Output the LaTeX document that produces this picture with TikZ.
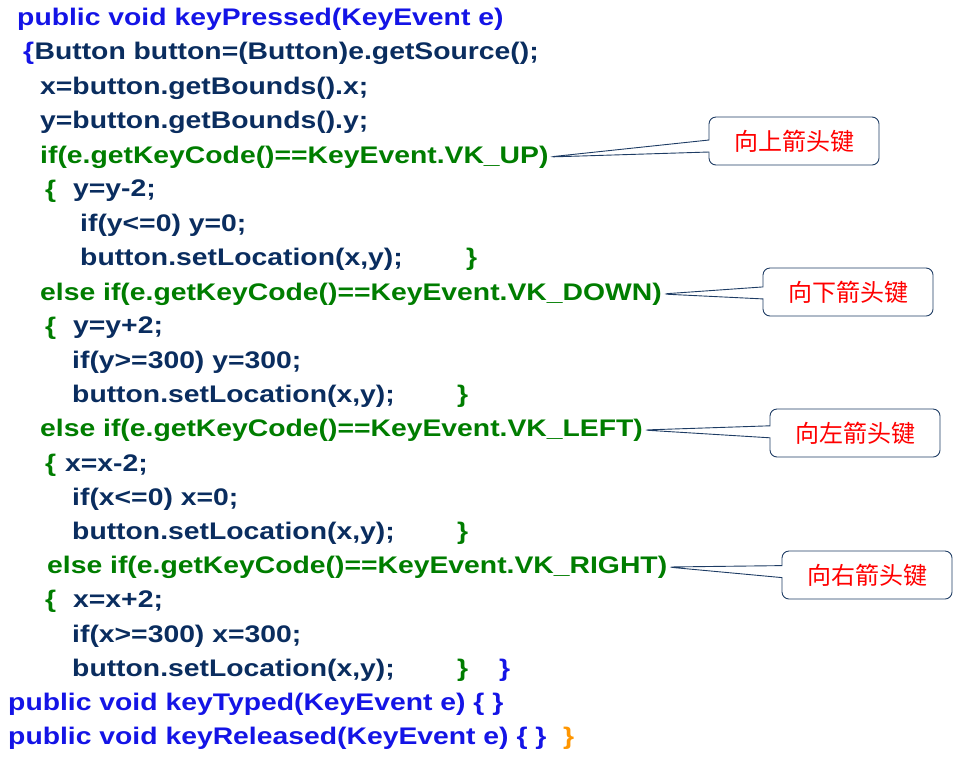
\documentclass[tikz,border=0pt]{standalone}
\usepackage{fontspec}
\usepackage{graphicx}
\setmainfont{Liberation Sans}
\newfontfamily\cjk{Noto Sans CJK SC}
\usetikzlibrary{shapes.callouts}
\definecolor{cblue}{RGB}{20,20,230}
\definecolor{cnavy}{RGB}{10,45,95}
\definecolor{cgreen}{RGB}{0,125,0}
\definecolor{corange}{RGB}{255,150,0}
\definecolor{cborder}{RGB}{30,60,100}
\newcommand\cx[1]{\scalebox{1.18}[1]{#1}}
\begin{document}
\begin{tikzpicture}[x=1pt,y=-1pt,
  code/.style={anchor=west,inner sep=0pt,font=\fontsize{24}{26}\selectfont\bfseries,text=cnavy},
  kw/.style={code,text=cblue},
  gr/.style={code,text=cgreen},
  note/.style={rectangle callout,draw=cborder,line width=0.9pt,fill=white,rounded corners=7pt,
    minimum width=170pt,minimum height=48pt,text=red,font=\cjk\fontsize{24}{26}\selectfont,callout pointer width=12pt}]
\useasboundingbox (0,0) rectangle (960,764);
\node[kw] (l1) at (17,19) {\cx{public void keyPressed(KeyEvent e)}};
\node[kw] (l2a) at (23,53) {\cx{\{}};
\node[code] (l2) at (l2a.east) [anchor=west] {\cx{Button button=(Button)e.getSource();}};
\node[code] (l3) at (40,88) {\cx{x=button.getBounds().x;}};
\node[code] (l4) at (40,122) {\cx{y=button.getBounds().y;}};
\node[gr] (l5) at (40,157) {\cx{if(e.getKeyCode()==KeyEvent.VK\_UP)}};
\node[gr] (l6a) at (45,191) {\cx{\{}};
\node[code] (l6) at (73,191) {\cx{y=y-2;}};
\node[code] (l7) at (80,225) {\cx{if(y<=0) y=0;}};
\node[code] (l8) at (80,259) {\cx{button.setLocation(x,y);}};
\node[gr] (l8b) at (466,259) {\cx{\}}};
\node[gr] (l9) at (40,294) {\cx{else if(e.getKeyCode()==KeyEvent.VK\_DOWN)}};
\node[gr] (l10a) at (45,328) {\cx{\{}};
\node[code] (l10) at (73,328) {\cx{y=y+2;}};
\node[code] (l11) at (72,362) {\cx{if(y>=300) y=300;}};
\node[code] (l12) at (72,396) {\cx{button.setLocation(x,y);}};
\node[gr] (l12b) at (457,396) {\cx{\}}};
\node[gr] (l13) at (40,430) {\cx{else if(e.getKeyCode()==KeyEvent.VK\_LEFT)}};
\node[gr] (l14a) at (45,465) {\cx{\{}};
\node[code] (l14) at (65,465) {\cx{x=x-2;}};
\node[code] (l15) at (72,499) {\cx{if(x<=0) x=0;}};
\node[code] (l16) at (72,533) {\cx{button.setLocation(x,y);}};
\node[gr] (l16b) at (457,533) {\cx{\}}};
\node[gr] (l17) at (47,567) {\cx{else if(e.getKeyCode()==KeyEvent.VK\_RIGHT)}};
\node[gr] (l18a) at (45,601) {\cx{\{}};
\node[code] (l18) at (73,601) {\cx{x=x+2;}};
\node[code] (l19) at (72,636) {\cx{if(x>=300) x=300;}};
\node[code] (l20) at (72,670) {\cx{button.setLocation(x,y);}};
\node[gr] (l20b) at (457,670) {\cx{\}}};
\node[kw] (l20c) at (499,670) {\cx{\}}};
\node[kw] (l21) at (8,704) {\cx{public void keyTyped(KeyEvent e) \{ \}}};
\node[kw] (l22) at (8,738) {\cx{public void keyReleased(KeyEvent e) \{ \}}};
\node[code,text=corange] (l22b) at (563,738) {\cx{\}}};
\node[note,callout absolute pointer={(l5.east)}] (n1) at (794,141) {向上箭头键};
\node[note,callout absolute pointer={(l9.east)}] (n2) at (848,292) {向下箭头键};
\node[note,callout absolute pointer={(l13.east)}] (n3) at (855,433) {向左箭头键};
\node[note,callout absolute pointer={(l17.east)}] (n4) at (867,575) {向右箭头键};
\end{tikzpicture}
\end{document}
